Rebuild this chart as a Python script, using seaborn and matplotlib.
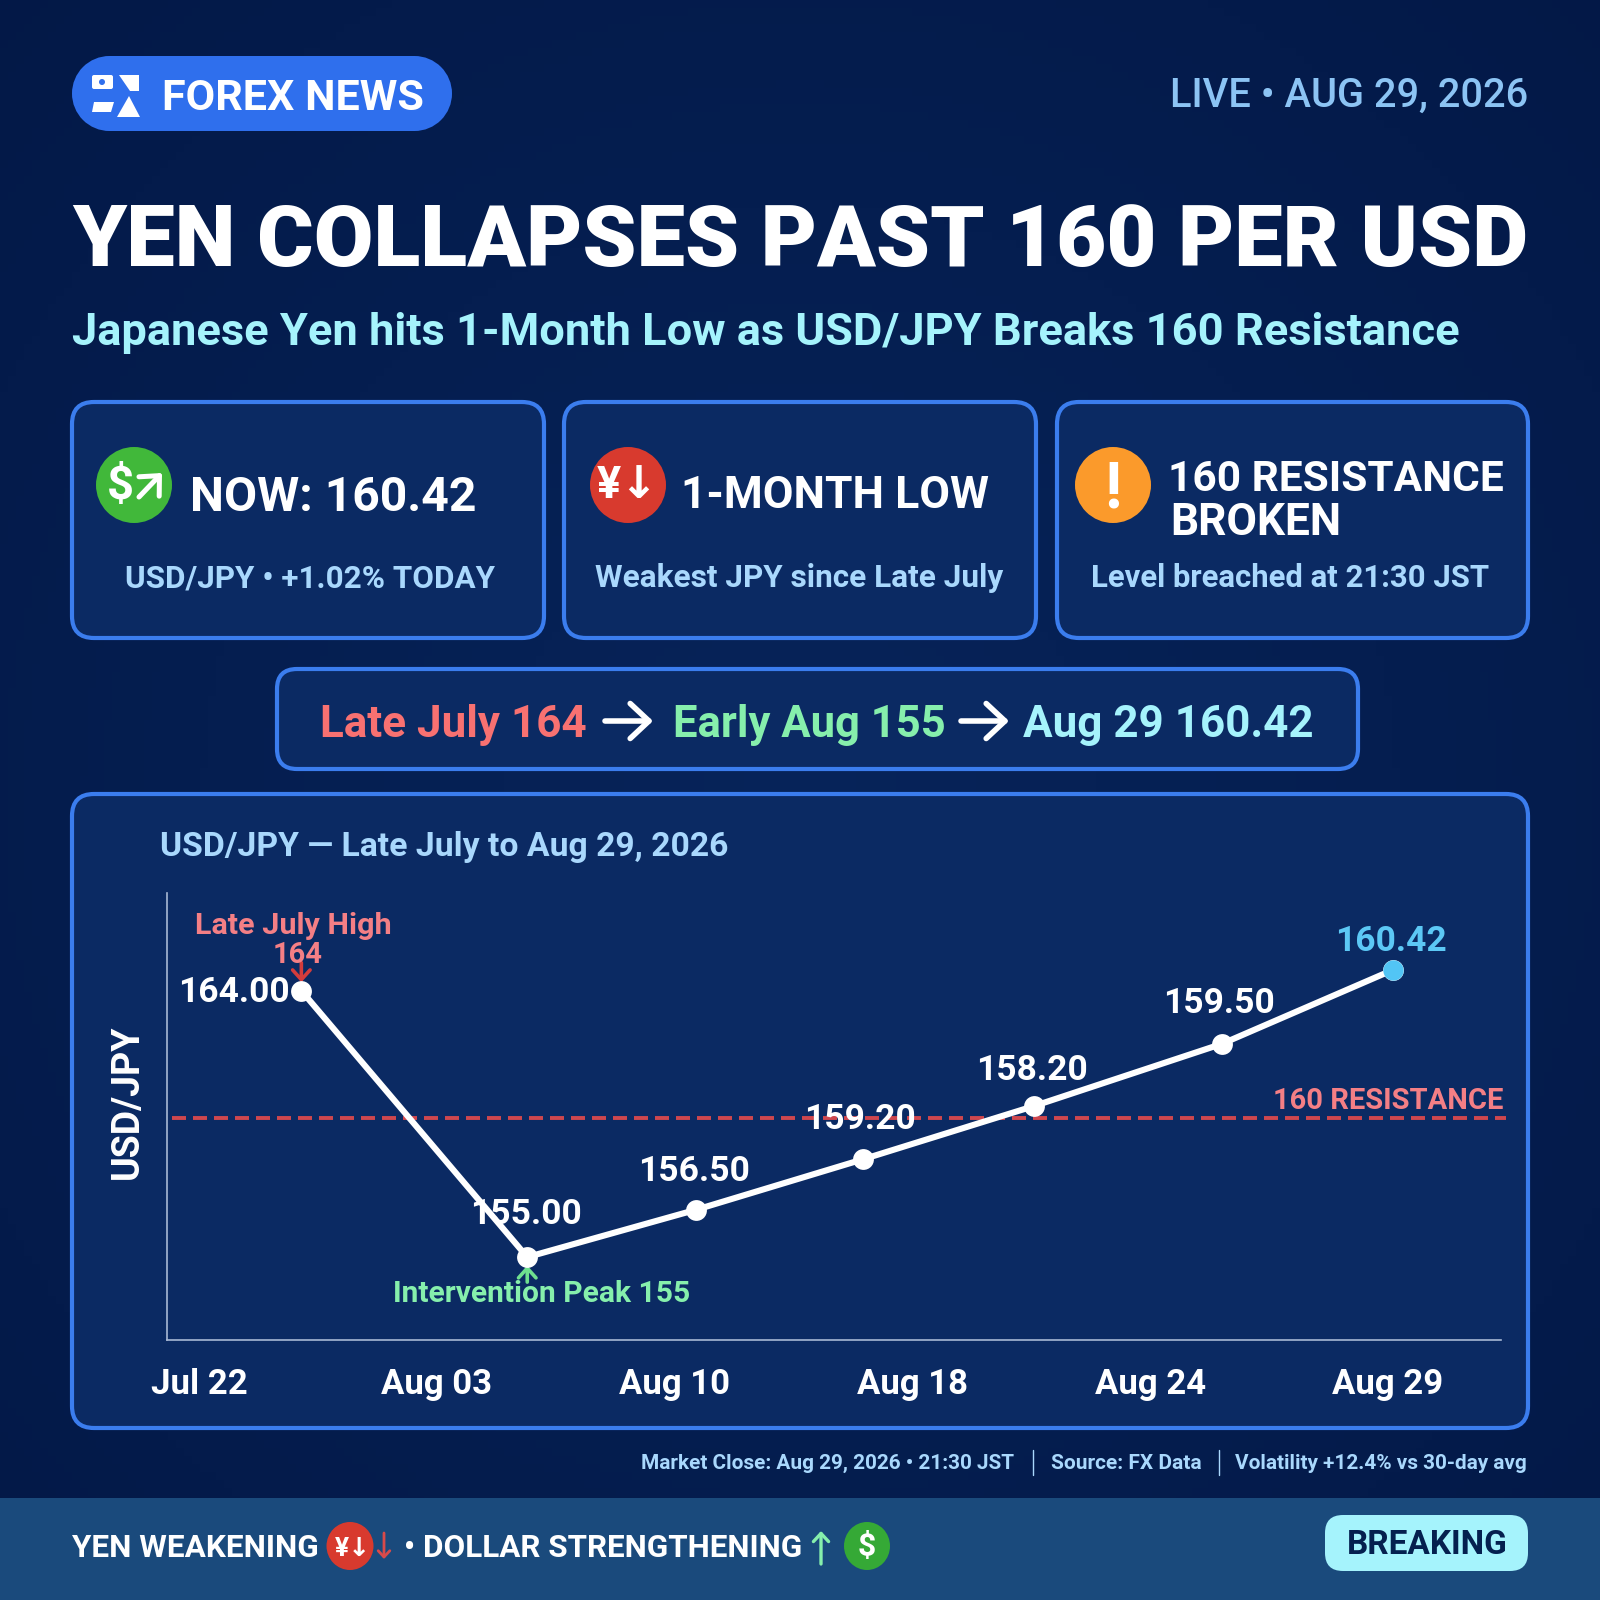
import matplotlib
matplotlib.use("Agg")
import matplotlib.pyplot as plt
import numpy as np
import pandas as pd
import seaborn as sns
from matplotlib.patches import Circle, Ellipse, FancyArrowPatch, FancyBboxPatch, Polygon, Rectangle

# %%
# tick labels sit on an even grid, the points do not line up with them
tick_labels = ["Jul 22", "Aug 03", "Aug 10", "Aug 18", "Aug 24", "Aug 29"]
point_pos = [0.43, 1.38, 2.09, 2.79, 3.51, 4.30, 5.02]
# heights; the printed labels do not follow the same scale
point_level = [164.0, 155.0, 156.6, 158.3, 160.1, 162.2, 164.7]
point_labels = ["164.00", "155.00", "156.50", "159.20", "158.20", "159.50", "160.42"]
resistance = 159.7

cards = ["NOW: 160.42", "1-MONTH LOW", "160 RESISTANCE", "BROKEN"]
card_notes = ["USD/JPY • +1.02% TODAY", "Weakest JPY since Late July", "Level breached at 21:30 JST"]
path_labels = ["Late July 164", "Early Aug 155", "Aug 29 160.42"]
notes = ["Market Close: Aug 29, 2026 • 21:30 JST", "Source: FX Data", "Volatility +12.4% vs 30-day avg"]

WHITE = "#ffffff"
BLUE = "#3b7dee"
PANEL = "#0b2a63"
CYAN = "#a5f3fc"
SOFT = "#a9d8fd"
RED = "#f87171"
PINK = "#f47f85"
GREEN = "#86efac"

# %%
sns.set_theme(style="white")
plt.rcParams["font.family"] = ["Roboto", "DejaVu Sans"]

fig = plt.figure(figsize=(16, 16), dpi=100)

# full page layer, units are pixels of the 1600 canvas
bg = fig.add_axes([0, 0, 1, 1])
bg.set_xlim(0, 1600)
bg.set_ylim(1600, 0)
bg.axis("off")

yy, xx = np.mgrid[0:1:200j, 0:1:200j]
glow = np.clip(1 - np.hypot(xx - 0.5, yy - 0.5) / 0.75, 0, 1)
c0, c1 = np.array([3, 24, 70]) / 255, np.array([7, 36, 90]) / 255
bg.imshow(c0 + (c1 - c0) * glow[..., None], extent=(0, 1600, 1600, 0), aspect="auto", zorder=0)
bg.set_xlim(0, 1600)
bg.set_ylim(1600, 0)

renderer = fig.canvas.get_renderer()


def label(x, y, s, size, color=WHITE, ha="left", weight="bold", width=None, ax=bg, **kw):
    t = ax.text(x, y, s, fontsize=size, color=color, ha=ha, va="baseline", weight=weight, zorder=5, **kw)
    if width is not None:
        # squeeze to the measured width of the original line
        t.set_fontsize(size * width / t.get_window_extent(renderer).width)
    return t


def box(x0, y0, x1, y1, radius=22, face=PANEL, edge=BLUE, lw=3.0, z=1):
    bg.add_patch(FancyBboxPatch((x0, y0), x1 - x0, y1 - y0, boxstyle=f"round,pad=0,rounding_size={radius}",
                                fc=face, ec=edge, lw=lw, zorder=z))


def pill(x0, y0, x1, y1, face):
    r = (y1 - y0) / 2
    bg.add_patch(Rectangle((x0 + r, y0), x1 - x0 - 2 * r, y1 - y0, fc=face, ec="none", zorder=2))
    bg.add_patch(Circle((x0 + r, y0 + r), r, fc=face, ec="none", zorder=2))
    bg.add_patch(Circle((x1 - r, y0 + r), r, fc=face, ec="none", zorder=2))


def arrow(x0, y0, x1, y1, color=WHITE, lw=4.0, head=30):
    bg.add_patch(FancyArrowPatch((x0, y0), (x1, y1), arrowstyle="->,head_length=0.45,head_width=0.42",
                                 mutation_scale=head, color=color, lw=lw, shrinkA=0, shrinkB=0,
                                 capstyle="round", joinstyle="round", zorder=6))


# header
pill(72, 56, 452, 131, "#2f6fed")
bg.add_patch(FancyBboxPatch((92, 75), 21, 14, boxstyle="round,pad=0,rounding_size=2", fc=WHITE, ec="none", zorder=3))
bg.add_patch(Circle((102, 82), 3, fc="#2f6fed", ec="none", zorder=4))
bg.add_patch(Polygon([(119, 75), (139, 75), (139, 91), (130, 91)], fc=WHITE, ec="none", zorder=3))
bg.add_patch(Polygon([(94, 102), (114, 102), (111, 112), (92, 112)], fc=WHITE, ec="none", zorder=3))
bg.add_patch(Polygon([(129, 96), (140, 117), (117, 117)], fc=WHITE, ec="none", zorder=3))
label(162, 110, "FOREX NEWS", 31, width=262)
label(1528, 107, "LIVE • AUG 29, 2026", 28, color="#8cc4f4", ha="right", weight="medium", width=358)
label(72, 266, "YEN COLLAPSES PAST 160 PER USD", 66, width=1456, weight="black")
label(72, 345, "Japanese Yen hits 1-Month Low as USD/JPY Breaks 160 Resistance", 33, color=CYAN, width=1388)

# three cards
box(72, 402, 544, 638)
box(564, 402, 1036, 638)
box(1057, 402, 1528, 638)
bg.add_patch(Circle((134, 485), 38, fc="#41b83a", ec="none", zorder=3))
bg.add_patch(Circle((628, 485), 38, fc="#d83a2e", ec="none", zorder=3))
bg.add_patch(Circle((1113, 485), 38, fc="#fb9a2b", ec="none", zorder=3))
label(107, 499, "$", 34)
arrow(139, 497, 162, 473, lw=3.6, head=24)
label(597, 498, "¥↓", 29, width=62)
label(1113, 508, "!", 46, ha="center")
label(190, 511, cards[0], 33, width=287)
label(681, 508, cards[1], 33, width=308)
label(1168, 491, cards[2], 30, width=335)
label(1170, 535, cards[3], 30, width=171)
label(125, 587, card_notes[0], 23, color=SOFT, width=370)
label(595, 587, card_notes[1], 23, color=SOFT, width=409)
label(1091, 587, card_notes[2], 23, color=SOFT, width=400)

# path band
box(277, 669, 1358, 769, radius=20)
label(320, 737, path_labels[0], 33, color=RED, width=267)
arrow(605, 721, 653, 721)
label(673, 737, path_labels[1], 33, color=GREEN, width=273)
arrow(961, 721, 1009, 721)
label(1023, 737, path_labels[2], 33, color=CYAN, width=291)

# chart panel
box(72, 794, 1528, 1428)
label(160, 856, "USD/JPY — Late July to Aug 29, 2026", 25, color=SOFT, width=569)

# %%
ax = fig.add_axes([167 / 1600, 1 - 1340 / 1600, (1501 - 167) / 1600, (1340 - 893) / 1600], facecolor="none")
ax.set_zorder(2)
df = pd.DataFrame({"pos": point_pos, "level": point_level})
sns.lineplot(data=df, x="pos", y="level", sort=False, color=WHITE, linewidth=4.4, marker="o",
             markersize=15, markeredgewidth=0, ax=ax, zorder=4)
sns.scatterplot(data=df.tail(1), x="pos", y="level", color="#52c5f5", s=215, linewidth=0, ax=ax, zorder=5)
ax.hlines(resistance, -0.115, 5.495, color="#cf474e", lw=2.8, linestyles=(0, (3.6, 1.8)), clip_on=False, zorder=3)
ax.set_xlim(-0.135, 5.475)
ax.set_ylim(152.2, 167.3)
ax.set_xticks(range(len(tick_labels)), tick_labels)
ax.set_yticks([])
ax.tick_params(axis="x", length=0, pad=20, labelsize=25, labelcolor=WHITE)
for tl in ax.get_xticklabels():
    tl.set_fontweight("bold")
ax.set_xlabel("")
ax.set_ylabel("USD/JPY", fontsize=27, color=WHITE, weight="bold", labelpad=15, y=0.532)
sns.despine(ax=ax)
for side in ["left", "bottom"]:
    ax.spines[side].set_color("#a8b8d4")
    ax.spines[side].set_linewidth(1.2)

# label offsets in pixels from each point
offsets = [(-12, -11), (-1, 33), (-2, 29), (-3, 30), (-2, 26), (-3, 31), (-2, 19)]
for i, txt in enumerate(point_labels):
    last = i == len(point_labels) - 1
    ax.annotate(txt, (point_pos[i], point_level[i]), xytext=(offsets[i][0] * 0.72, offsets[i][1] * 0.72),
                textcoords="offset points", ha="right" if i == 0 else "center", va="baseline",
                fontsize=25.5, weight="bold", color="#5cc8f5" if last else WHITE, zorder=7)
head = "->,head_length=0.5,head_width=0.45"
ax.annotate("", (point_pos[0], point_level[0]), xytext=(0, 28 * 0.72), textcoords="offset points",
            arrowprops=dict(arrowstyle=head, color="#d43c3c", lw=2.6, mutation_scale=14, shrinkA=0, shrinkB=6))
ax.annotate("", (point_pos[1], point_level[1]), xytext=(0, -25 * 0.72), textcoords="offset points",
            arrowprops=dict(arrowstyle=head, color="#6fe08f", lw=2.6, mutation_scale=14, shrinkA=0, shrinkB=6))

bg.set_zorder(1)
top = fig.add_axes([0, 0, 1, 1], facecolor="none")
top.set_xlim(0, 1600)
top.set_ylim(1600, 0)
top.axis("off")
top.set_zorder(3)
label(195, 934, "Late July High", 22, color=PINK, width=196, ax=top)
label(298, 963, "164", 22, color=PINK, ha="center", width=50, ax=top)
label(393, 1302, "Intervention Peak 155", 22, color=GREEN, width=297, ax=top)
label(1273, 1109, "160 RESISTANCE", 22, color=PINK, width=230, ax=top)

# %%
# notes and bottom strip
label(641, 1469, notes[0], 15, color=SOFT, width=374)
label(1051, 1469, notes[1], 15, color=SOFT, width=151)
label(1235, 1469, notes[2], 15, color=SOFT, width=293)
bg.plot([1033, 1033], [1450, 1475], color=SOFT, lw=1, zorder=5)
bg.plot([1219, 1219], [1450, 1475], color=SOFT, lw=1, zorder=5)

bg.axhspan(1498, 1600, color="#1a4a7c", lw=0, zorder=1)
label(72, 1557, "YEN WEAKENING", 22, width=246)
bg.add_patch(Ellipse((350, 1546), 47, 48, fc="#d83a2e", ec="none", zorder=3))
label(335, 1556, "¥↓", 20, width=36)
arrow(384, 1533, 384, 1559, color="#d84a4a", lw=2, head=10)
label(410, 1557, "•", 22, ha="center")
label(423, 1557, "DOLLAR STRENGTHENING", 22, width=378)
arrow(821, 1564, 821, 1531, color=GREEN, lw=2.4, head=13)
bg.add_patch(Ellipse((867, 1546), 46, 48, fc="#35a936", ec="none", zorder=3))
label(867, 1556, "$", 23, ha="center")
box(1325, 1515, 1528, 1571, radius=18, face=CYAN, edge="none", lw=0, z=2)
label(1347, 1554, "BREAKING", 22, color="#05204f", width=161)

fig.savefig("out.png", dpi=100, facecolor="#031a4c")
